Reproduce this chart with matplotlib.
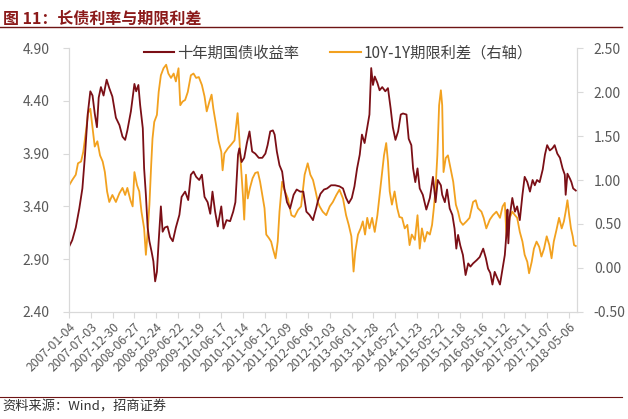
import matplotlib
matplotlib.use("Agg")
import matplotlib.pyplot as plt
import matplotlib.dates as mdates
from matplotlib.lines import Line2D
from datetime import datetime, timedelta

plt.rcParams['font.family'] = ['Noto Sans CJK SC', 'DejaVu Sans']

# 十年期国债收益率 (left axis), dates as decimal years
yield_t = [2007.01, 2007.08, 2007.16, 2007.24, 2007.31, 2007.37, 2007.43, 2007.49, 2007.54, 2007.59,
           2007.64, 2007.68, 2007.73, 2007.79, 2007.86, 2007.92, 2007.99, 2008.07, 2008.15, 2008.22,
           2008.28, 2008.33, 2008.41, 2008.49, 2008.53, 2008.58, 2008.62, 2008.68, 2008.71, 2008.75,
           2008.79, 2008.83, 2008.88, 2008.92, 2008.96, 2009.00, 2009.04, 2009.09, 2009.13, 2009.18,
           2009.24, 2009.30, 2009.36, 2009.43, 2009.51, 2009.56, 2009.64, 2009.71, 2009.77, 2009.83,
           2009.89, 2009.96, 2010.02, 2010.08, 2010.15, 2010.21, 2010.26, 2010.32, 2010.38, 2010.46,
           2010.51, 2010.58, 2010.66, 2010.73, 2010.78, 2010.81, 2010.84, 2010.87, 2010.92, 2010.98,
           2011.04, 2011.10, 2011.16, 2011.23, 2011.31, 2011.39, 2011.46, 2011.51, 2011.57, 2011.63,
           2011.67, 2011.72, 2011.78, 2011.84, 2011.89, 2011.95, 2012.02, 2012.10, 2012.17, 2012.25,
           2012.32, 2012.39, 2012.46, 2012.54, 2012.57, 2012.61, 2012.65, 2012.71, 2012.79, 2012.86,
           2012.95, 2013.04, 2013.14, 2013.22, 2013.29, 2013.35, 2013.42, 2013.48, 2013.54, 2013.60,
           2013.65, 2013.71, 2013.77, 2013.82, 2013.86, 2013.90, 2013.94, 2014.00, 2014.05, 2014.11,
           2014.18, 2014.24, 2014.30, 2014.35, 2014.41, 2014.47, 2014.53, 2014.58, 2014.66, 2014.71,
           2014.77, 2014.81, 2014.86, 2014.91, 2014.96, 2015.03, 2015.11, 2015.19, 2015.26, 2015.32,
           2015.37, 2015.44, 2015.47, 2015.53, 2015.58, 2015.64, 2015.70, 2015.75, 2015.79, 2015.83,
           2015.88, 2015.94, 2016.00, 2016.06, 2016.11, 2016.17, 2016.25, 2016.32, 2016.40, 2016.46,
           2016.51, 2016.56, 2016.61, 2016.66, 2016.71, 2016.78, 2016.84, 2016.89, 2016.93, 2016.95,
           2016.97, 2017.00, 2017.06, 2017.12, 2017.17, 2017.23, 2017.29, 2017.34, 2017.40, 2017.46,
           2017.52, 2017.57, 2017.62, 2017.68, 2017.75, 2017.80, 2017.85, 2017.91, 2017.97, 2018.02,
           2018.08, 2018.14, 2018.20, 2018.25, 2018.27, 2018.31, 2018.37, 2018.40, 2018.44, 2018.50]
yield_v = [3.02, 3.08, 3.20, 3.38, 3.57, 3.89, 4.27, 4.49, 4.45, 4.28,
           4.15, 4.43, 4.53, 4.45, 4.60, 4.52, 4.44, 4.24, 4.17, 4.06,
           4.03, 4.12, 4.30, 4.56, 4.49, 4.55, 4.36, 4.14, 3.76, 3.51,
           3.20, 3.07, 2.97, 2.88, 2.69, 2.78, 3.07, 3.40, 3.16, 3.20,
           3.21, 3.11, 3.07, 3.20, 3.32, 3.49, 3.54, 3.46, 3.70, 3.73,
           3.68, 3.65, 3.70, 3.49, 3.44, 3.33, 3.54, 3.35, 3.21, 3.40,
           3.19, 3.27, 3.26, 3.35, 3.44, 3.67, 3.89, 3.95, 3.82, 3.86,
           4.00, 4.11, 3.92, 3.90, 3.86, 3.86, 3.90, 3.98, 4.11, 4.12,
           4.08, 3.92, 3.79, 3.73, 3.57, 3.44, 3.38, 3.51, 3.56, 3.54,
           3.54, 3.35, 3.32, 3.27, 3.32, 3.38, 3.45, 3.52, 3.56, 3.57,
           3.60, 3.60, 3.59, 3.57, 3.48, 3.43, 3.48, 3.59, 3.76, 3.89,
           4.08, 4.00, 4.15, 4.27, 4.71, 4.55, 4.63, 4.57, 4.50, 4.53,
           4.49, 4.52, 4.33, 4.15, 4.03, 4.11, 4.27, 4.28, 4.27, 4.04,
           3.98, 3.76, 3.63, 3.76, 3.57, 3.51, 3.37, 3.48, 3.68, 3.44,
           3.65, 3.60, 3.51, 3.44, 3.56, 3.38, 3.32, 3.19, 3.00, 3.13,
           3.03, 2.94, 2.75, 2.86, 2.83, 2.86, 2.89, 2.92, 3.00, 2.91,
           2.81, 2.77, 2.66, 2.78, 2.73, 2.66, 2.81, 2.94, 3.16, 3.37,
           3.05, 3.30, 3.48, 3.35, 3.40, 3.27, 3.51, 3.68, 3.63, 3.54,
           3.65, 3.60, 3.65, 3.63, 3.75, 3.89, 3.98, 3.93, 3.95, 3.98,
           3.90, 3.86, 3.76, 3.70, 3.51, 3.71, 3.66, 3.63, 3.57, 3.55]

# 10Y-1Y期限利差 (right axis)
spread_t = [2007.01, 2007.08, 2007.16, 2007.21, 2007.28, 2007.33, 2007.39, 2007.44, 2007.49, 2007.54,
            2007.59, 2007.65, 2007.71, 2007.77, 2007.82, 2007.87, 2007.92, 2007.99, 2008.07, 2008.15,
            2008.22, 2008.28, 2008.33, 2008.40, 2008.45, 2008.49, 2008.55, 2008.60, 2008.65, 2008.71,
            2008.75, 2008.79, 2008.83, 2008.87, 2008.90, 2008.94, 2009.00, 2009.04, 2009.09, 2009.15,
            2009.21, 2009.26, 2009.32, 2009.38, 2009.43, 2009.49, 2009.53, 2009.58, 2009.64, 2009.70,
            2009.77, 2009.83, 2009.89, 2009.95, 2010.02, 2010.08, 2010.13, 2010.19, 2010.24, 2010.28,
            2010.34, 2010.40, 2010.46, 2010.49, 2010.53, 2010.61, 2010.68, 2010.76, 2010.83, 2010.87,
            2010.91, 2010.95, 2010.98, 2011.02, 2011.06, 2011.11, 2011.17, 2011.23, 2011.29, 2011.34,
            2011.39, 2011.44, 2011.48, 2011.54, 2011.59, 2011.63, 2011.69, 2011.74, 2011.78, 2011.84,
            2011.89, 2011.97, 2012.05, 2012.12, 2012.20, 2012.27, 2012.35, 2012.42, 2012.48, 2012.54,
            2012.60, 2012.65, 2012.69, 2012.76, 2012.84, 2012.92, 2012.99, 2013.07, 2013.14, 2013.22,
            2013.29, 2013.35, 2013.41, 2013.46, 2013.50, 2013.56, 2013.62, 2013.67, 2013.72, 2013.77,
            2013.82, 2013.88, 2013.94, 2014.00, 2014.05, 2014.10, 2014.15, 2014.20, 2014.24, 2014.28,
            2014.33, 2014.39, 2014.45, 2014.50, 2014.56, 2014.62, 2014.68, 2014.73, 2014.78, 2014.85,
            2014.91, 2014.96, 2015.01, 2015.07, 2015.13, 2015.19, 2015.24, 2015.28, 2015.32, 2015.36,
            2015.40, 2015.44, 2015.47, 2015.50, 2015.55, 2015.60, 2015.66, 2015.72, 2015.78, 2015.83,
            2015.88, 2015.94, 2016.02, 2016.09, 2016.17, 2016.23, 2016.28, 2016.36, 2016.41, 2016.47,
            2016.55, 2016.62, 2016.70, 2016.78, 2016.84, 2016.89, 2016.93, 2016.96, 2017.00, 2017.06,
            2017.12, 2017.17, 2017.23, 2017.29, 2017.34, 2017.40, 2017.44, 2017.50, 2017.55, 2017.61,
            2017.67, 2017.72, 2017.78, 2017.84, 2017.90, 2017.95, 2018.00, 2018.06, 2018.12, 2018.18,
            2018.23, 2018.27, 2018.31, 2018.35, 2018.39, 2018.43, 2018.46, 2018.50]
spread_v = [0.94, 1.00, 1.06, 1.19, 1.21, 1.32, 1.55, 1.76, 1.81, 1.59,
            1.38, 1.44, 1.28, 1.21, 1.09, 0.87, 0.75, 0.83, 0.75, 0.85,
            0.91, 0.83, 0.91, 0.77, 0.70, 1.09, 0.94, 0.87, 0.64, 0.45,
            0.15, 0.41, 0.72, 1.17, 1.47, 1.66, 1.74, 2.00, 2.19, 2.27,
            2.31, 2.21, 2.16, 2.21, 2.12, 2.27, 1.85, 1.89, 1.91, 2.00,
            2.19, 2.21, 2.16, 2.17, 2.08, 1.95, 1.78, 1.89, 1.97, 1.81,
            1.63, 1.44, 1.32, 1.11, 1.30, 1.36, 1.40, 1.45, 1.76, 1.47,
            1.13, 0.83, 0.55, 1.06, 0.79, 0.91, 1.02, 1.08, 1.09, 0.98,
            0.83, 0.68, 0.38, 0.34, 0.30, 0.22, 0.11, 0.30, 0.64, 0.98,
            0.89, 0.79, 0.60, 0.58, 0.66, 0.70, 1.06, 1.19, 1.06, 1.00,
            0.87, 0.75, 0.70, 0.64, 0.60, 0.70, 0.75, 0.83, 0.89, 0.79,
            0.60, 0.49, 0.36, -0.04, 0.19, 0.38, 0.45, 0.53, 0.38, 0.57,
            0.45, 0.57, 0.41, 0.60, 0.83, 1.06, 1.28, 1.42, 1.21, 0.87,
            0.72, 0.87, 0.68, 0.58, 0.57, 0.45, 0.49, 0.26, 0.38, 0.32,
            0.60, 0.22, 0.45, 0.30, 0.41, 0.38, 0.49, 0.68, 0.91, 1.28,
            1.85, 2.02, 1.85, 1.09, 1.25, 1.28, 1.13, 0.98, 0.72, 0.64,
            0.53, 0.49, 0.53, 0.57, 0.75, 0.77, 0.68, 0.64, 0.57, 0.45,
            0.55, 0.60, 0.64, 0.57, 0.70, 0.74, 0.34, 0.45, 0.57, 0.64,
            0.60, 0.57, 0.41, 0.30, 0.15, 0.07, -0.06, 0.07, 0.22, 0.30,
            0.24, 0.13, 0.22, 0.36, 0.26, 0.11, 0.30, 0.43, 0.57, 0.45,
            0.53, 0.64, 0.77, 0.60, 0.45, 0.36, 0.26, 0.25]

tick_labels = ['2007-01-04', '2007-07-03', '2007-12-30', '2008-06-27', '2008-12-24', '2009-06-22',
               '2009-12-19', '2010-06-17', '2010-12-14', '2011-06-12', '2011-12-09', '2012-06-06',
               '2012-12-03', '2013-06-01', '2013-11-28', '2014-05-27', '2014-11-23', '2015-05-22',
               '2015-11-18', '2016-05-16', '2016-11-12', '2017-05-11', '2017-11-07', '2018-05-06']
left_ticks = [2.40, 2.90, 3.40, 3.90, 4.40, 4.90]
right_ticks = [-0.50, 0.00, 0.50, 1.00, 1.50, 2.00, 2.50]


def to_num(yr):
    return mdates.date2num(datetime(2007, 1, 1) + timedelta(days=(yr - 2007) * 365.25))


RED = '#7B0F16'
ORANGE = '#F2A11F'
GRID = '#D9D9D9'
TXT = '#595959'

fig = plt.figure(figsize=(6.28, 4.19), dpi=100)
ax = fig.add_axes([0.110, 0.2554, 0.809, 0.630])
ax2 = ax.twinx()

ax.plot([to_num(t) for t in yield_t], yield_v, color=RED, lw=1.3)
ax2.plot([to_num(t) for t in spread_t], spread_v, color=ORANGE, lw=1.3)
ax.set_zorder(ax2.get_zorder() + 1)
ax.patch.set_visible(False)

ax.set_ylim(2.40, 4.90)
ax2.set_ylim(-0.50, 2.50)
ax.set_yticks(left_ticks)
ax.set_yticklabels(['%.2f' % v for v in left_ticks])
ax2.set_yticks(right_ticks)
ax2.set_yticklabels(['%.2f' % v for v in right_ticks])

tick_pos = [mdates.date2num(datetime.strptime(s, '%Y-%m-%d')) for s in tick_labels]
ax.set_xlim(mdates.date2num(datetime(2007, 1, 4)), to_num(2018.53))
ax.set_xticks(tick_pos)
ax.set_xticklabels(tick_labels, rotation=45, ha='right', rotation_mode='anchor',
                   fontsize=8.8, color=TXT)

for a in (ax, ax2):
    for s in a.spines.values():
        s.set_color(GRID)
        s.set_linewidth(0.8)
    a.spines['top'].set_visible(False)
    a.tick_params(axis='both', colors=GRID, labelcolor=TXT, length=4, width=0.8, labelsize=10)
ax.tick_params(axis='x', pad=2, labelsize=8.8)
ax.tick_params(axis='y', pad=10)
ax2.tick_params(axis='y', pad=8)

handles = [Line2D([], [], color=RED, lw=1.5), Line2D([], [], color=ORANGE, lw=1.5)]
leg = ax.legend(handles, ['十年期国债收益率', '10Y-1Y期限利差（右轴）'], loc='upper center',
                bbox_to_anchor=(0.53, 1.065), ncol=2, frameon=False, fontsize=11,
                handlelength=2.0, handletextpad=0.2, columnspacing=2.0)
for t in leg.get_texts():
    t.set_color('#404040')

fig.text(0.005, 0.975, '图 11：长债利率与期限利差', fontsize=11.5, fontweight='bold',
         color='#8B1A1A', ha='left', va='top')
fig.add_artist(Line2D([0.0, 0.99], [0.936, 0.936], color='#6E1414', lw=1.0))
fig.add_artist(Line2D([0.0, 0.99], [0.052, 0.052], color='#6E1414', lw=0.8))
fig.text(0.003, 0.028, '资料来源：Wind，招商证券', fontsize=9.5, color='#333333',
         ha='left', va='center')

fig.savefig('out.png', dpi=100)
